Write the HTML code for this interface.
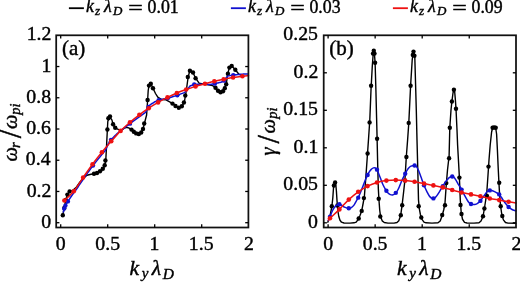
<!DOCTYPE html>
<html><head><meta charset="utf-8"><style>
html,body{margin:0;padding:0;background:#fff;}
svg{display:block;filter:blur(0.35px);}
text{fill:#000;stroke:#000;stroke-width:0.4px;}
</style></head><body>
<svg width="520" height="282" viewBox="0 0 520 282">
<rect width="520" height="282" fill="#fff"/>
<path d="M62.80,215.20 L64.00,209.50 L65.60,200.50 L67.40,194.60 L69.60,191.40 L72.50,190.60 L76.00,187.60 L80.00,182.00 L84.00,177.60 L87.00,175.20 L91.00,174.30 L95.00,173.80 L98.50,172.30 L101.90,169.90 L104.10,167.00 L105.30,163.00 L105.90,158.00 L106.60,145.00 L107.30,131.00 L107.80,121.50 L109.50,116.60 L111.90,119.90 L113.10,124.30 L114.80,127.30 L117.60,129.10 L121.00,130.30 L124.00,128.30 L126.50,127.40 L129.00,128.00 L131.50,129.60 L133.80,131.80 L137.50,134.00 L140.80,132.70 L142.90,129.40 L144.00,125.00 L146.60,115.00 L147.50,102.00 L148.20,90.50 L149.00,85.60 L150.80,83.70 L153.00,88.20 L155.50,93.50 L157.80,97.20 L161.70,99.50 L166.00,99.90 L171.00,102.60 L174.80,105.20 L179.00,108.00 L182.40,106.00 L184.60,100.50 L186.00,92.40 L187.20,84.00 L188.20,76.50 L189.90,70.80 L193.00,72.50 L195.60,78.20 L199.10,83.20 L204.10,84.30 L208.50,84.80 L212.50,85.60 L214.80,87.00 L217.20,89.70 L219.40,91.90 L222.00,92.00 L224.20,89.30 L225.60,85.50 L226.60,82.00 L227.50,75.00 L229.00,68.80 L231.70,65.90 L235.30,69.80 L238.50,73.80 L242.50,76.00" fill="none" stroke="#000000" stroke-width="1.4" stroke-linejoin="round" stroke-linecap="round"/>
<circle cx="62.80" cy="215.20" r="2.2" fill="#000000"/><circle cx="64.30" cy="208.00" r="2.2" fill="#000000"/><circle cx="65.80" cy="200.00" r="2.2" fill="#000000"/><circle cx="67.40" cy="194.60" r="2.2" fill="#000000"/><circle cx="69.60" cy="191.40" r="2.2" fill="#000000"/><circle cx="94.00" cy="173.80" r="2.2" fill="#000000"/><circle cx="97.00" cy="173.00" r="2.2" fill="#000000"/><circle cx="100.00" cy="171.30" r="2.2" fill="#000000"/><circle cx="102.80" cy="168.70" r="2.2" fill="#000000"/><circle cx="104.70" cy="165.20" r="2.2" fill="#000000"/><circle cx="105.40" cy="160.50" r="2.2" fill="#000000"/><circle cx="107.40" cy="129.50" r="2.2" fill="#000000"/><circle cx="108.40" cy="118.20" r="2.2" fill="#000000"/><circle cx="110.00" cy="116.40" r="2.2" fill="#000000"/><circle cx="113.10" cy="124.30" r="2.2" fill="#000000"/><circle cx="115.20" cy="127.80" r="2.2" fill="#000000"/><circle cx="131.50" cy="129.60" r="2.2" fill="#000000"/><circle cx="133.80" cy="131.80" r="2.2" fill="#000000"/><circle cx="136.20" cy="133.40" r="2.2" fill="#000000"/><circle cx="138.80" cy="134.00" r="2.2" fill="#000000"/><circle cx="141.20" cy="132.50" r="2.2" fill="#000000"/><circle cx="143.00" cy="129.00" r="2.2" fill="#000000"/><circle cx="144.20" cy="123.50" r="2.2" fill="#000000"/><circle cx="147.60" cy="100.00" r="2.2" fill="#000000"/><circle cx="149.00" cy="85.60" r="2.2" fill="#000000"/><circle cx="150.80" cy="83.70" r="2.2" fill="#000000"/><circle cx="153.00" cy="88.20" r="2.2" fill="#000000"/><circle cx="172.50" cy="103.60" r="2.2" fill="#000000"/><circle cx="175.50" cy="106.00" r="2.2" fill="#000000"/><circle cx="178.80" cy="107.80" r="2.2" fill="#000000"/><circle cx="181.80" cy="106.30" r="2.2" fill="#000000"/><circle cx="183.90" cy="102.50" r="2.2" fill="#000000"/><circle cx="185.30" cy="95.50" r="2.2" fill="#000000"/><circle cx="187.80" cy="77.00" r="2.2" fill="#000000"/><circle cx="189.90" cy="70.80" r="2.2" fill="#000000"/><circle cx="193.00" cy="72.50" r="2.2" fill="#000000"/><circle cx="195.60" cy="78.20" r="2.2" fill="#000000"/><circle cx="215.50" cy="87.80" r="2.2" fill="#000000"/><circle cx="218.00" cy="90.80" r="2.2" fill="#000000"/><circle cx="220.50" cy="92.30" r="2.2" fill="#000000"/><circle cx="223.00" cy="91.30" r="2.2" fill="#000000"/><circle cx="224.80" cy="88.20" r="2.2" fill="#000000"/><circle cx="226.20" cy="84.20" r="2.2" fill="#000000"/><circle cx="227.90" cy="73.80" r="2.2" fill="#000000"/><circle cx="229.40" cy="67.60" r="2.2" fill="#000000"/><circle cx="231.70" cy="65.90" r="2.2" fill="#000000"/><circle cx="235.30" cy="69.80" r="2.2" fill="#000000"/>
<path d="M63.30,212.04 L64.00,209.38 L64.70,207.37 L65.40,205.59 L66.10,204.48 L66.80,203.32 L67.50,202.11 L68.20,200.97 L68.90,199.94 L69.60,198.87 L70.30,197.76 L71.00,196.77 L71.70,195.81 L72.40,194.81 L73.10,193.79 L73.80,192.76 L74.50,191.84 L75.20,190.90 L75.90,189.94 L76.60,188.96 L77.30,187.96 L78.00,186.95 L78.70,185.94 L79.40,184.91 L80.10,183.88 L80.80,182.84 L81.50,181.79 L82.20,180.75 L82.90,179.72 L83.60,178.69 L84.30,177.66 L85.00,176.65 L85.70,175.64 L86.40,174.64 L87.10,173.65 L87.80,172.66 L88.50,171.69 L89.20,170.72 L89.90,169.76 L90.60,168.81 L91.30,167.86 L92.00,166.93 L92.70,166.00 L93.40,165.08 L94.10,164.17 L94.80,163.27 L95.50,162.37 L96.20,161.49 L96.90,160.61 L97.60,159.74 L98.30,158.87 L99.00,158.01 L99.70,157.16 L100.40,156.30 L101.10,155.45 L101.80,154.60 L102.50,153.75 L103.20,152.91 L103.90,152.08 L104.60,151.25 L105.30,150.42 L106.00,149.05 L106.70,147.46 L107.40,145.87 L108.10,144.40 L108.80,142.96 L109.50,141.52 L110.20,140.75 L110.90,139.98 L111.60,139.22 L112.30,138.45 L113.00,137.69 L113.70,137.00 L114.40,136.31 L115.10,135.63 L115.80,134.95 L116.50,134.28 L117.20,133.62 L117.90,132.97 L118.60,132.38 L119.30,131.82 L120.00,131.26 L120.70,130.72 L121.40,130.19 L122.10,129.67 L122.80,129.16 L123.50,128.62 L124.20,128.06 L124.90,127.51 L125.60,126.98 L126.30,126.45 L127.00,125.94 L127.70,125.43 L128.40,124.89 L129.10,124.34 L129.80,123.79 L130.50,123.25 L131.20,122.72 L131.90,122.19 L132.60,121.67 L133.30,121.15 L134.00,120.64 L134.70,120.14 L135.40,119.62 L136.10,119.10 L136.80,118.58 L137.50,118.07 L138.20,117.56 L138.90,117.05 L139.60,116.55 L140.30,116.06 L141.00,115.56 L141.70,115.07 L142.40,114.58 L143.10,114.08 L143.80,113.58 L144.50,113.09 L145.20,112.60 L145.90,111.67 L146.60,110.41 L147.30,109.16 L148.00,107.92 L148.70,106.69 L149.40,105.47 L150.10,104.89 L150.80,104.42 L151.50,103.96 L152.20,103.50 L152.90,103.05 L153.60,102.60 L154.30,102.16 L155.00,101.72 L155.70,101.43 L156.40,101.14 L157.10,100.86 L157.80,100.58 L158.50,100.30 L159.20,100.03 L159.90,99.77 L160.60,99.59 L161.30,99.43 L162.00,99.28 L162.70,99.13 L163.40,98.98 L164.10,98.84 L164.80,98.70 L165.50,98.56 L166.20,98.43 L166.90,98.30 L167.60,98.17 L168.30,98.04 L169.00,97.91 L169.70,97.79 L170.40,97.59 L171.10,97.33 L171.80,97.07 L172.50,96.82 L173.20,96.57 L173.90,96.33 L174.60,96.09 L175.30,95.86 L176.00,95.63 L176.70,95.41 L177.40,95.20 L178.10,94.98 L178.80,94.70 L179.50,94.43 L180.20,94.16 L180.90,93.90 L181.60,93.64 L182.30,93.38 L183.00,93.13 L183.70,92.88 L184.40,92.49 L185.10,92.00 L185.80,91.51 L186.50,90.70 L187.20,89.76 L187.90,88.81 L188.60,87.87 L189.30,86.93 L190.00,86.00 L190.70,85.73 L191.40,85.47 L192.10,85.21 L192.80,84.96 L193.50,84.71 L194.20,84.46 L194.90,84.21 L195.60,84.16 L196.30,84.15 L197.00,84.14 L197.70,84.13 L198.40,84.13 L199.10,84.13 L199.80,84.13 L200.50,84.15 L201.20,84.17 L201.90,84.19 L202.60,84.21 L203.30,84.23 L204.00,84.26 L204.70,84.28 L205.40,84.30 L206.10,84.32 L206.80,84.34 L207.50,84.36 L208.20,84.38 L208.90,84.40 L209.60,84.42 L210.30,84.38 L211.00,84.26 L211.70,84.14 L212.40,84.03 L213.10,83.92 L213.80,83.81 L214.50,83.71 L215.20,83.58 L215.90,83.41 L216.60,83.25 L217.30,83.08 L218.00,82.92 L218.70,82.76 L219.40,82.60 L220.10,82.45 L220.80,82.30 L221.50,81.98 L222.20,81.60 L222.90,81.23 L223.60,80.85 L224.30,80.23 L225.00,79.29 L225.70,78.35 L226.40,77.55 L227.10,76.86 L227.80,76.17 L228.50,75.88 L229.20,75.75 L229.90,75.63 L230.60,75.51 L231.30,75.39 L232.00,75.27 L232.70,75.18 L233.40,75.09 L234.10,75.01 L234.80,74.92 L235.50,74.84 L236.20,74.76 L236.90,74.68 L237.60,74.60 L238.30,74.53 L239.00,74.46 L239.70,74.39 L240.40,74.33 L241.10,74.26 L241.80,74.20 L242.50,74.14 L243.20,74.09 L243.90,74.03 L244.60,74.01 L245.30,74.00 L246.00,74.00 L246.70,73.99 L247.40,73.99 L248.10,73.99" fill="none" stroke="#1010d0" stroke-width="1.5" stroke-linejoin="round" stroke-linecap="round"/>
<circle cx="64.20" cy="208.61" r="2.2" fill="#1010d0"/><circle cx="65.40" cy="205.59" r="2.2" fill="#1010d0"/><circle cx="67.90" cy="201.40" r="2.2" fill="#1010d0"/><circle cx="93.00" cy="165.60" r="2.2" fill="#1010d0"/><circle cx="111.00" cy="139.87" r="2.2" fill="#1010d0"/><circle cx="130.00" cy="123.63" r="2.2" fill="#1010d0"/><circle cx="148.50" cy="107.04" r="2.2" fill="#1010d0"/><circle cx="158.60" cy="100.26" r="2.2" fill="#1010d0"/><circle cx="167.70" cy="98.15" r="2.2" fill="#1010d0"/><circle cx="177.30" cy="95.23" r="2.2" fill="#1010d0"/><circle cx="194.20" cy="84.46" r="2.2" fill="#1010d0"/><circle cx="214.80" cy="83.66" r="2.2" fill="#1010d0"/><circle cx="224.00" cy="80.64" r="2.2" fill="#1010d0"/><circle cx="233.30" cy="75.10" r="2.2" fill="#1010d0"/>
<path d="M64.40,200.50 C65.96,198.95 70.65,195.03 73.77,191.20 C76.89,187.37 80.02,182.00 83.14,177.50 C86.26,173.00 89.39,168.40 92.51,164.20 C95.63,160.00 98.76,156.12 101.88,152.30 C105.00,148.48 108.13,144.87 111.25,141.30 C114.37,137.73 117.50,134.08 120.62,130.90 C123.74,127.72 126.87,124.88 129.99,122.20 C133.11,119.52 136.24,117.13 139.36,114.80 C142.48,112.47 145.61,110.27 148.73,108.20 C151.85,106.13 154.98,104.20 158.10,102.40 C161.22,100.60 164.35,98.97 167.47,97.40 C170.59,95.83 173.72,94.32 176.84,93.00 C179.96,91.68 183.09,90.60 186.21,89.50 C189.33,88.40 192.46,87.35 195.58,86.40 C198.70,85.45 201.83,84.65 204.95,83.80 C208.07,82.95 211.20,82.07 214.32,81.30 C217.44,80.53 220.57,79.83 223.69,79.20 C226.81,78.57 229.94,78.00 233.06,77.50 C236.18,77.00 239.86,76.52 242.43,76.20 C245.00,75.88 247.49,75.70 248.50,75.60" fill="none" stroke="#ee1111" stroke-width="1.5" stroke-linejoin="round" stroke-linecap="round"/>
<circle cx="64.40" cy="200.50" r="2.3" fill="#ee1111"/><circle cx="73.77" cy="191.20" r="2.3" fill="#ee1111"/><circle cx="83.14" cy="177.50" r="2.3" fill="#ee1111"/><circle cx="92.51" cy="164.20" r="2.3" fill="#ee1111"/><circle cx="101.88" cy="152.30" r="2.3" fill="#ee1111"/><circle cx="111.25" cy="141.30" r="2.3" fill="#ee1111"/><circle cx="120.62" cy="130.90" r="2.3" fill="#ee1111"/><circle cx="129.99" cy="122.20" r="2.3" fill="#ee1111"/><circle cx="139.36" cy="114.80" r="2.3" fill="#ee1111"/><circle cx="148.73" cy="108.20" r="2.3" fill="#ee1111"/><circle cx="158.10" cy="102.40" r="2.3" fill="#ee1111"/><circle cx="167.47" cy="97.40" r="2.3" fill="#ee1111"/><circle cx="176.84" cy="93.00" r="2.3" fill="#ee1111"/><circle cx="186.21" cy="89.50" r="2.3" fill="#ee1111"/><circle cx="195.58" cy="86.40" r="2.3" fill="#ee1111"/><circle cx="204.95" cy="83.80" r="2.3" fill="#ee1111"/><circle cx="214.32" cy="81.30" r="2.3" fill="#ee1111"/><circle cx="223.69" cy="79.20" r="2.3" fill="#ee1111"/><circle cx="233.06" cy="77.50" r="2.3" fill="#ee1111"/><circle cx="242.43" cy="76.20" r="2.3" fill="#ee1111"/>
<path d="M327.80,222.20 L330.00,216.00 L331.80,207.00 L332.80,198.00 L333.50,188.00 L334.50,183.20 L335.10,182.00 L335.80,184.50 L336.40,191.00 L337.00,200.50 L337.80,210.50 L338.80,216.50 L340.00,220.25 L341.50,222.20 L344.00,223.00 L350.00,223.10 L354.00,222.80 L356.20,222.10 L358.20,219.35 L360.00,215.50 L361.70,210.90 L363.20,203.00 L364.40,196.00 L365.80,178.00 L367.20,158.00 L368.60,138.00 L369.80,120.00 L371.00,90.00 L372.30,66.00 L373.20,54.00 L373.80,50.60 L374.40,53.20 L375.10,62.50 L375.90,90.00 L376.60,118.00 L377.10,138.50 L377.70,165.00 L378.30,188.00 L378.90,199.00 L379.70,210.00 L380.60,216.80 L382.20,220.85 L384.30,222.50 L388.00,223.10 L394.00,223.10 L397.00,222.50 L398.80,220.75 L400.60,215.80 L402.10,205.20 L403.50,193.00 L404.90,180.40 L406.30,157.00 L407.60,140.00 L408.80,122.90 L410.60,85.70 L412.20,60.00 L413.00,53.50 L413.50,51.60 L414.20,53.80 L414.80,57.00 L415.60,85.00 L416.30,110.00 L417.00,140.00 L417.80,170.00 L418.50,200.00 L419.30,208.60 L420.40,214.50 L421.80,219.15 L424.00,222.10 L426.00,222.80 L432.00,223.10 L438.00,222.80 L440.20,220.95 L442.20,215.50 L443.80,209.50 L445.00,203.00 L446.30,184.00 L447.50,170.00 L449.10,156.00 L449.80,127.70 L451.00,110.00 L451.90,101.50 L453.00,93.00 L453.90,89.80 L454.70,92.00 L455.40,100.00 L456.00,108.70 L457.00,130.00 L457.60,145.00 L458.60,163.00 L459.40,177.60 L460.30,200.00 L461.20,212.50 L462.50,219.25 L464.50,222.30 L467.00,223.00 L474.00,223.10 L479.00,222.80 L481.00,221.05 L483.00,216.50 L484.40,208.50 L485.80,199.50 L486.90,191.00 L488.00,175.00 L489.00,160.00 L490.20,145.00 L491.60,132.00 L492.60,128.00 L494.10,127.40 L495.70,128.00 L496.60,134.00 L497.40,150.00 L498.20,168.00 L498.90,182.00 L499.60,194.50 L500.60,206.00 L501.80,214.50 L503.40,219.85 L505.50,222.50 L508.00,223.10 L516.00,223.30" fill="none" stroke="#000000" stroke-width="1.4" stroke-linejoin="round" stroke-linecap="round"/>
<circle cx="331.80" cy="206.30" r="2.2" fill="#000000"/><circle cx="333.90" cy="185.50" r="2.2" fill="#000000"/><circle cx="335.10" cy="182.40" r="2.2" fill="#000000"/><circle cx="337.40" cy="205.50" r="2.2" fill="#000000"/><circle cx="358.70" cy="218.50" r="2.2" fill="#000000"/><circle cx="361.70" cy="210.90" r="2.2" fill="#000000"/><circle cx="363.90" cy="198.10" r="2.2" fill="#000000"/><circle cx="367.60" cy="153.50" r="2.2" fill="#000000"/><circle cx="369.60" cy="122.40" r="2.2" fill="#000000"/><circle cx="371.10" cy="85.80" r="2.2" fill="#000000"/><circle cx="373.00" cy="53.60" r="2.2" fill="#000000"/><circle cx="373.80" cy="50.80" r="2.2" fill="#000000"/><circle cx="374.50" cy="53.60" r="2.2" fill="#000000"/><circle cx="375.10" cy="62.80" r="2.2" fill="#000000"/><circle cx="377.10" cy="138.80" r="2.2" fill="#000000"/><circle cx="378.70" cy="198.80" r="2.2" fill="#000000"/><circle cx="380.30" cy="216.50" r="2.2" fill="#000000"/><circle cx="400.80" cy="215.20" r="2.2" fill="#000000"/><circle cx="402.20" cy="205.20" r="2.2" fill="#000000"/><circle cx="404.90" cy="180.40" r="2.2" fill="#000000"/><circle cx="406.40" cy="157.00" r="2.2" fill="#000000"/><circle cx="408.70" cy="122.90" r="2.2" fill="#000000"/><circle cx="410.60" cy="85.70" r="2.2" fill="#000000"/><circle cx="412.80" cy="54.90" r="2.2" fill="#000000"/><circle cx="413.50" cy="51.60" r="2.2" fill="#000000"/><circle cx="414.40" cy="55.80" r="2.2" fill="#000000"/><circle cx="418.70" cy="206.20" r="2.2" fill="#000000"/><circle cx="421.30" cy="217.50" r="2.2" fill="#000000"/><circle cx="442.20" cy="215.00" r="2.2" fill="#000000"/><circle cx="445.00" cy="205.20" r="2.2" fill="#000000"/><circle cx="446.30" cy="183.10" r="2.2" fill="#000000"/><circle cx="449.10" cy="158.30" r="2.2" fill="#000000"/><circle cx="449.80" cy="127.70" r="2.2" fill="#000000"/><circle cx="451.90" cy="101.50" r="2.2" fill="#000000"/><circle cx="453.90" cy="89.80" r="2.2" fill="#000000"/><circle cx="456.00" cy="108.70" r="2.2" fill="#000000"/><circle cx="459.40" cy="177.60" r="2.2" fill="#000000"/><circle cx="460.50" cy="205.00" r="2.2" fill="#000000"/><circle cx="461.50" cy="214.00" r="2.2" fill="#000000"/><circle cx="483.00" cy="216.30" r="2.2" fill="#000000"/><circle cx="484.40" cy="208.50" r="2.2" fill="#000000"/><circle cx="487.00" cy="196.00" r="2.2" fill="#000000"/><circle cx="488.50" cy="166.60" r="2.2" fill="#000000"/><circle cx="492.60" cy="127.70" r="2.2" fill="#000000"/><circle cx="494.10" cy="127.40" r="2.2" fill="#000000"/><circle cx="495.70" cy="127.70" r="2.2" fill="#000000"/><circle cx="499.20" cy="182.70" r="2.2" fill="#000000"/><circle cx="500.70" cy="206.30" r="2.2" fill="#000000"/><circle cx="502.30" cy="216.00" r="2.2" fill="#000000"/>
<path d="M328.30,220.50 C328.58,219.88 329.28,218.48 330.00,216.80 C330.72,215.12 331.65,212.22 332.60,210.40 C333.55,208.58 334.60,206.93 335.70,205.90 C336.80,204.87 338.15,204.28 339.20,204.20 C340.25,204.12 341.13,204.92 342.00,205.40 C342.87,205.88 343.30,206.62 344.40,207.10 C345.50,207.58 347.50,208.17 348.60,208.30 C349.70,208.43 350.13,208.38 351.00,207.90 C351.87,207.42 352.97,206.45 353.80,205.40 C354.63,204.35 355.23,202.95 356.00,201.60 C356.77,200.25 357.57,199.03 358.40,197.30 C359.23,195.57 360.20,193.15 361.00,191.20 C361.80,189.25 362.43,187.60 363.20,185.60 C363.97,183.60 364.67,181.37 365.60,179.20 C366.53,177.03 367.90,174.20 368.80,172.60 C369.70,171.00 370.22,170.38 371.00,169.60 C371.78,168.82 372.75,168.17 373.50,167.90 C374.25,167.63 374.93,167.75 375.50,168.00 C376.07,168.25 376.40,168.52 376.90,169.40 C377.40,170.28 377.87,171.73 378.50,173.30 C379.13,174.87 379.95,176.88 380.70,178.80 C381.45,180.72 382.15,182.93 383.00,184.80 C383.85,186.67 384.97,188.63 385.80,190.00 C386.63,191.37 387.25,192.23 388.00,193.00 C388.75,193.77 389.55,194.27 390.30,194.60 C391.05,194.93 391.63,195.22 392.50,195.00 C393.37,194.78 394.62,194.13 395.50,193.30 C396.38,192.47 397.07,191.32 397.80,190.00 C398.53,188.68 399.20,187.03 399.90,185.40 C400.60,183.77 401.15,182.07 402.00,180.20 C402.85,178.33 404.17,175.83 405.00,174.20 C405.83,172.57 406.38,171.43 407.00,170.40 C407.62,169.37 408.03,168.72 408.70,168.00 C409.37,167.28 410.07,166.53 411.00,166.10 C411.93,165.67 413.38,165.32 414.30,165.40 C415.22,165.48 415.77,165.70 416.50,166.60 C417.23,167.50 417.95,169.07 418.70,170.80 C419.45,172.53 420.12,174.58 421.00,177.00 C421.88,179.42 423.00,182.83 424.00,185.30 C425.00,187.77 426.08,189.97 427.00,191.80 C427.92,193.63 428.67,195.20 429.50,196.30 C430.33,197.40 431.25,198.05 432.00,198.40 C432.75,198.75 433.33,198.67 434.00,198.40 C434.67,198.13 435.10,197.90 436.00,196.80 C436.90,195.70 438.40,193.37 439.40,191.80 C440.40,190.23 441.15,188.80 442.00,187.40 C442.85,186.00 443.67,184.63 444.50,183.40 C445.33,182.17 446.17,181.00 447.00,180.00 C447.83,179.00 448.68,178.00 449.50,177.40 C450.32,176.80 451.15,176.40 451.90,176.40 C452.65,176.40 453.32,176.77 454.00,177.40 C454.68,178.03 455.33,179.13 456.00,180.20 C456.67,181.27 457.17,182.43 458.00,183.80 C458.83,185.17 460.08,186.80 461.00,188.40 C461.92,190.00 462.60,191.70 463.50,193.40 C464.40,195.10 465.57,197.17 466.40,198.60 C467.23,200.03 467.82,201.12 468.50,202.00 C469.18,202.88 469.75,203.47 470.50,203.90 C471.25,204.33 472.03,204.57 473.00,204.60 C473.97,204.63 475.38,204.42 476.30,204.10 C477.22,203.78 477.80,203.25 478.50,202.70 C479.20,202.15 479.80,201.65 480.50,200.80 C481.20,199.95 481.97,198.63 482.70,197.60 C483.43,196.57 484.08,195.70 484.90,194.60 C485.72,193.50 486.67,191.73 487.60,191.00 C488.53,190.27 489.58,190.20 490.50,190.20 C491.42,190.20 492.18,190.63 493.10,191.00 C494.02,191.37 494.98,191.83 496.00,192.40 C497.02,192.97 498.28,193.55 499.20,194.40 C500.12,195.25 500.73,196.40 501.50,197.50 C502.27,198.60 503.05,199.92 503.80,201.00 C504.55,202.08 505.20,203.00 506.00,204.00 C506.80,205.00 507.77,206.18 508.60,207.00 C509.43,207.82 510.27,208.40 511.00,208.90 C511.73,209.40 512.17,209.67 513.00,210.00 C513.83,210.33 515.50,210.75 516.00,210.90" fill="none" stroke="#1010d0" stroke-width="1.5" stroke-linejoin="round" stroke-linecap="round"/>
<circle cx="330.00" cy="216.80" r="2.2" fill="#1010d0"/><circle cx="339.40" cy="204.29" r="2.2" fill="#1010d0"/><circle cx="348.80" cy="208.27" r="2.2" fill="#1010d0"/><circle cx="358.20" cy="197.66" r="2.2" fill="#1010d0"/><circle cx="367.60" cy="175.07" r="2.2" fill="#1010d0"/><circle cx="377.00" cy="169.64" r="2.2" fill="#1010d0"/><circle cx="386.40" cy="190.82" r="2.2" fill="#1010d0"/><circle cx="395.80" cy="192.87" r="2.2" fill="#1010d0"/><circle cx="405.20" cy="173.82" r="2.2" fill="#1010d0"/><circle cx="414.60" cy="165.56" r="2.2" fill="#1010d0"/><circle cx="424.00" cy="185.30" r="2.2" fill="#1010d0"/><circle cx="433.40" cy="198.40" r="2.2" fill="#1010d0"/><circle cx="442.80" cy="186.12" r="2.2" fill="#1010d0"/><circle cx="452.20" cy="176.54" r="2.2" fill="#1010d0"/><circle cx="461.60" cy="189.60" r="2.2" fill="#1010d0"/><circle cx="471.00" cy="204.04" r="2.2" fill="#1010d0"/><circle cx="480.40" cy="200.90" r="2.2" fill="#1010d0"/><circle cx="489.80" cy="190.39" r="2.2" fill="#1010d0"/><circle cx="499.20" cy="194.40" r="2.2" fill="#1010d0"/><circle cx="508.60" cy="207.00" r="2.2" fill="#1010d0"/>
<path d="M328.50,220.00 C328.75,219.72 328.18,220.07 330.00,218.30 C331.82,216.53 336.27,212.52 339.40,209.40 C342.53,206.28 345.67,202.53 348.80,199.60 C351.93,196.67 355.07,194.05 358.20,191.80 C361.33,189.55 364.47,187.65 367.60,186.10 C370.73,184.55 373.87,183.42 377.00,182.50 C380.13,181.58 383.27,181.00 386.40,180.60 C389.53,180.20 392.67,180.10 395.80,180.10 C398.93,180.10 402.07,180.32 405.20,180.60 C408.33,180.88 411.47,181.30 414.60,181.80 C417.73,182.30 420.87,183.00 424.00,183.60 C427.13,184.20 430.27,184.77 433.40,185.40 C436.53,186.03 439.67,186.63 442.80,187.40 C445.93,188.17 449.07,189.15 452.20,190.00 C455.33,190.85 458.47,191.77 461.60,192.50 C464.73,193.23 467.87,193.77 471.00,194.40 C474.13,195.03 477.27,195.62 480.40,196.30 C483.53,196.98 486.67,197.87 489.80,198.50 C492.93,199.13 496.07,199.57 499.20,200.10 C502.33,200.63 505.80,201.22 508.60,201.70 C511.40,202.18 514.77,202.78 516.00,203.00" fill="none" stroke="#ee1111" stroke-width="1.5" stroke-linejoin="round" stroke-linecap="round"/>
<circle cx="330.00" cy="218.30" r="2.3" fill="#ee1111"/><circle cx="339.40" cy="209.40" r="2.3" fill="#ee1111"/><circle cx="348.80" cy="199.60" r="2.3" fill="#ee1111"/><circle cx="358.20" cy="191.80" r="2.3" fill="#ee1111"/><circle cx="367.60" cy="186.10" r="2.3" fill="#ee1111"/><circle cx="377.00" cy="182.50" r="2.3" fill="#ee1111"/><circle cx="386.40" cy="180.60" r="2.3" fill="#ee1111"/><circle cx="395.80" cy="180.10" r="2.3" fill="#ee1111"/><circle cx="405.20" cy="180.60" r="2.3" fill="#ee1111"/><circle cx="414.60" cy="181.80" r="2.3" fill="#ee1111"/><circle cx="424.00" cy="183.60" r="2.3" fill="#ee1111"/><circle cx="433.40" cy="185.40" r="2.3" fill="#ee1111"/><circle cx="442.80" cy="187.40" r="2.3" fill="#ee1111"/><circle cx="452.20" cy="190.00" r="2.3" fill="#ee1111"/><circle cx="461.60" cy="192.50" r="2.3" fill="#ee1111"/><circle cx="471.00" cy="194.40" r="2.3" fill="#ee1111"/><circle cx="480.40" cy="196.30" r="2.3" fill="#ee1111"/><circle cx="489.80" cy="198.50" r="2.3" fill="#ee1111"/><circle cx="499.20" cy="200.10" r="2.3" fill="#ee1111"/><circle cx="508.60" cy="201.70" r="2.3" fill="#ee1111"/>
<rect x="56.2" y="35.3" width="192.2" height="192.2" fill="none" stroke="#111" stroke-width="1.75"/><line x1="60.7" y1="227.5" x2="60.7" y2="224.3" stroke="#000" stroke-width="1.3"/><line x1="60.7" y1="35.3" x2="60.7" y2="38.5" stroke="#000" stroke-width="1.3"/><line x1="107.7" y1="227.5" x2="107.7" y2="224.3" stroke="#000" stroke-width="1.3"/><line x1="107.7" y1="35.3" x2="107.7" y2="38.5" stroke="#000" stroke-width="1.3"/><line x1="154.7" y1="227.5" x2="154.7" y2="224.3" stroke="#000" stroke-width="1.3"/><line x1="154.7" y1="35.3" x2="154.7" y2="38.5" stroke="#000" stroke-width="1.3"/><line x1="201.7" y1="227.5" x2="201.7" y2="224.3" stroke="#000" stroke-width="1.3"/><line x1="201.7" y1="35.3" x2="201.7" y2="38.5" stroke="#000" stroke-width="1.3"/><line x1="56.2" y1="222.7" x2="59.400000000000006" y2="222.7" stroke="#000" stroke-width="1.3"/><line x1="248.4" y1="222.7" x2="245.20000000000002" y2="222.7" stroke="#000" stroke-width="1.3"/><line x1="56.2" y1="191.46699999999998" x2="59.400000000000006" y2="191.46699999999998" stroke="#000" stroke-width="1.3"/><line x1="248.4" y1="191.46699999999998" x2="245.20000000000002" y2="191.46699999999998" stroke="#000" stroke-width="1.3"/><line x1="56.2" y1="160.23399999999998" x2="59.400000000000006" y2="160.23399999999998" stroke="#000" stroke-width="1.3"/><line x1="248.4" y1="160.23399999999998" x2="245.20000000000002" y2="160.23399999999998" stroke="#000" stroke-width="1.3"/><line x1="56.2" y1="129.00099999999998" x2="59.400000000000006" y2="129.00099999999998" stroke="#000" stroke-width="1.3"/><line x1="248.4" y1="129.00099999999998" x2="245.20000000000002" y2="129.00099999999998" stroke="#000" stroke-width="1.3"/><line x1="56.2" y1="97.76799999999999" x2="59.400000000000006" y2="97.76799999999999" stroke="#000" stroke-width="1.3"/><line x1="248.4" y1="97.76799999999999" x2="245.20000000000002" y2="97.76799999999999" stroke="#000" stroke-width="1.3"/><line x1="56.2" y1="66.535" x2="59.400000000000006" y2="66.535" stroke="#000" stroke-width="1.3"/><line x1="248.4" y1="66.535" x2="245.20000000000002" y2="66.535" stroke="#000" stroke-width="1.3"/>
<rect x="323.7" y="35.3" width="192.3" height="192.2" fill="none" stroke="#111" stroke-width="1.75"/><line x1="328.1" y1="227.5" x2="328.1" y2="224.3" stroke="#000" stroke-width="1.3"/><line x1="328.1" y1="35.3" x2="328.1" y2="38.5" stroke="#000" stroke-width="1.3"/><line x1="375.15000000000003" y1="227.5" x2="375.15000000000003" y2="224.3" stroke="#000" stroke-width="1.3"/><line x1="375.15000000000003" y1="35.3" x2="375.15000000000003" y2="38.5" stroke="#000" stroke-width="1.3"/><line x1="422.20000000000005" y1="227.5" x2="422.20000000000005" y2="224.3" stroke="#000" stroke-width="1.3"/><line x1="422.20000000000005" y1="35.3" x2="422.20000000000005" y2="38.5" stroke="#000" stroke-width="1.3"/><line x1="469.25" y1="227.5" x2="469.25" y2="224.3" stroke="#000" stroke-width="1.3"/><line x1="469.25" y1="35.3" x2="469.25" y2="38.5" stroke="#000" stroke-width="1.3"/><line x1="323.7" y1="222.8" x2="326.9" y2="222.8" stroke="#000" stroke-width="1.3"/><line x1="516.0" y1="222.8" x2="512.8" y2="222.8" stroke="#000" stroke-width="1.3"/><line x1="323.7" y1="185.3" x2="326.9" y2="185.3" stroke="#000" stroke-width="1.3"/><line x1="516.0" y1="185.3" x2="512.8" y2="185.3" stroke="#000" stroke-width="1.3"/><line x1="323.7" y1="147.8" x2="326.9" y2="147.8" stroke="#000" stroke-width="1.3"/><line x1="516.0" y1="147.8" x2="512.8" y2="147.8" stroke="#000" stroke-width="1.3"/><line x1="323.7" y1="110.30000000000001" x2="326.9" y2="110.30000000000001" stroke="#000" stroke-width="1.3"/><line x1="516.0" y1="110.30000000000001" x2="512.8" y2="110.30000000000001" stroke="#000" stroke-width="1.3"/><line x1="323.7" y1="72.80000000000001" x2="326.9" y2="72.80000000000001" stroke="#000" stroke-width="1.3"/><line x1="516.0" y1="72.80000000000001" x2="512.8" y2="72.80000000000001" stroke="#000" stroke-width="1.3"/>
<text x="55.76" y="249.90" style="font-family:'Liberation Serif',serif;font-size:19.8px">0</text>
<text x="95.33" y="249.90" style="font-family:'Liberation Serif',serif;font-size:19.8px">0.5</text>
<text x="149.45" y="249.90" style="font-family:'Liberation Serif',serif;font-size:19.8px">1</text>
<text x="188.82" y="249.90" style="font-family:'Liberation Serif',serif;font-size:19.8px">1.5</text>
<text x="243.89" y="249.90" style="font-family:'Liberation Serif',serif;font-size:19.8px">2</text>
<text x="323.16" y="249.90" style="font-family:'Liberation Serif',serif;font-size:19.8px">0</text>
<text x="362.78" y="249.90" style="font-family:'Liberation Serif',serif;font-size:19.8px">0.5</text>
<text x="416.95" y="249.90" style="font-family:'Liberation Serif',serif;font-size:19.8px">1</text>
<text x="456.38" y="249.90" style="font-family:'Liberation Serif',serif;font-size:19.8px">1.5</text>
<text x="511.49" y="249.90" style="font-family:'Liberation Serif',serif;font-size:19.8px">2</text>
<text x="41.17" y="227.75" style="font-family:'Liberation Serif',serif;font-size:19.8px">0</text>
<text x="26.67" y="196.52" style="font-family:'Liberation Serif',serif;font-size:19.8px">0.2</text>
<text x="25.80" y="165.28" style="font-family:'Liberation Serif',serif;font-size:19.8px">0.4</text>
<text x="26.17" y="134.05" style="font-family:'Liberation Serif',serif;font-size:19.8px">0.6</text>
<text x="26.30" y="102.82" style="font-family:'Liberation Serif',serif;font-size:19.8px">0.8</text>
<text x="41.55" y="71.58" style="font-family:'Liberation Serif',serif;font-size:19.8px">1</text>
<text x="26.67" y="40.35" style="font-family:'Liberation Serif',serif;font-size:19.8px">1.2</text>
<text x="308.07" y="227.85" style="font-family:'Liberation Serif',serif;font-size:19.8px">0</text>
<text x="283.32" y="190.35" style="font-family:'Liberation Serif',serif;font-size:19.8px">0.05</text>
<text x="293.57" y="152.85" style="font-family:'Liberation Serif',serif;font-size:19.8px">0.1</text>
<text x="283.32" y="115.35" style="font-family:'Liberation Serif',serif;font-size:19.8px">0.15</text>
<text x="293.57" y="77.85" style="font-family:'Liberation Serif',serif;font-size:19.8px">0.2</text>
<text x="283.32" y="40.35" style="font-family:'Liberation Serif',serif;font-size:19.8px">0.25</text>
<text x="62.06" y="55.20" style="font-family:'Liberation Serif',serif;font-size:21px">(a)</text>
<text x="329.15" y="55.20" style="font-family:'Liberation Serif',serif;font-size:21px">(b)</text>
<text x="129.50" y="275.30" style="font-family:'Liberation Serif',serif;font-size:21.5px;font-style:italic">k</text><text x="141.66" y="278.10" style="font-family:'Liberation Serif',serif;font-size:15px;font-style:italic">y</text><text x="151.72" y="275.30" style="font-family:'Liberation Serif',serif;font-size:21.5px;font-style:italic">λ</text><text x="162.81" y="278.60" style="font-family:'Liberation Serif',serif;font-size:15.5px;font-style:italic">D</text>
<text x="397.00" y="275.30" style="font-family:'Liberation Serif',serif;font-size:21.5px;font-style:italic">k</text><text x="409.16" y="278.10" style="font-family:'Liberation Serif',serif;font-size:15px;font-style:italic">y</text><text x="419.23" y="275.30" style="font-family:'Liberation Serif',serif;font-size:21.5px;font-style:italic">λ</text><text x="430.31" y="278.60" style="font-family:'Liberation Serif',serif;font-size:15.5px;font-style:italic">D</text>
<g transform="translate(17.0,160.4) rotate(-90)"><text x="-1.03" y="0.00" style="font-family:'Liberation Serif',serif;font-size:20.5px;font-style:italic">ω</text><text x="12.38" y="2.70" style="font-family:'Liberation Serif',serif;font-size:14.5px;font-style:italic">r</text><text x="22.10" y="4.10" style="font-family:'Liberation Serif',serif;font-size:30.5px">/</text><text x="31.42" y="0.00" style="font-family:'Liberation Serif',serif;font-size:20.5px;font-style:italic">ω</text><text x="45.60" y="2.70" style="font-family:'Liberation Serif',serif;font-size:14.5px;font-style:italic">pi</text></g>
<g transform="translate(274.5,156.5) rotate(-90)"><text x="1.11" y="0.00" style="font-family:'Liberation Serif',serif;font-size:20.5px;font-style:italic">γ</text><text x="13.10" y="4.10" style="font-family:'Liberation Serif',serif;font-size:30.5px">/</text><text x="22.93" y="0.00" style="font-family:'Liberation Serif',serif;font-size:20.5px;font-style:italic">ω</text><text x="37.80" y="2.70" style="font-family:'Liberation Serif',serif;font-size:14.5px;font-style:italic">pi</text></g>
<line x1="68.90" y1="8.2" x2="83.90" y2="8.2" stroke="#000000" stroke-width="1.8"/><text x="85.99" y="12.30" style="font-family:'Liberation Serif',serif;font-size:17.8px;font-style:italic">k</text><text x="94.88" y="15.00" style="font-family:'Liberation Serif',serif;font-size:13px;font-style:italic">z</text><text x="103.91" y="12.40" style="font-family:'Liberation Serif',serif;font-size:17.8px;font-style:italic">λ</text><text x="112.99" y="15.30" style="font-family:'Liberation Serif',serif;font-size:13px;font-style:italic">D</text><text transform="translate(135.50,8.05) scale(1.45,1.08)" x="-5.00" y="5.94" style="font-family:'Liberation Serif',serif;font-size:17.8px">=</text><text x="147.62" y="12.55" style="font-family:'Liberation Serif',serif;font-size:17.8px">0.01</text>
<line x1="230.90" y1="8.2" x2="245.90" y2="8.2" stroke="#1010d0" stroke-width="1.8"/><text x="247.99" y="12.30" style="font-family:'Liberation Serif',serif;font-size:17.8px;font-style:italic">k</text><text x="256.88" y="15.00" style="font-family:'Liberation Serif',serif;font-size:13px;font-style:italic">z</text><text x="265.91" y="12.40" style="font-family:'Liberation Serif',serif;font-size:17.8px;font-style:italic">λ</text><text x="274.99" y="15.30" style="font-family:'Liberation Serif',serif;font-size:13px;font-style:italic">D</text><text transform="translate(297.50,8.05) scale(1.45,1.08)" x="-5.00" y="5.94" style="font-family:'Liberation Serif',serif;font-size:17.8px">=</text><text x="309.44" y="12.55" style="font-family:'Liberation Serif',serif;font-size:17.8px">0.03</text>
<line x1="392.90" y1="8.2" x2="407.90" y2="8.2" stroke="#ee1111" stroke-width="1.8"/><text x="409.99" y="12.30" style="font-family:'Liberation Serif',serif;font-size:17.8px;font-style:italic">k</text><text x="418.88" y="15.00" style="font-family:'Liberation Serif',serif;font-size:13px;font-style:italic">z</text><text x="427.91" y="12.40" style="font-family:'Liberation Serif',serif;font-size:17.8px;font-style:italic">λ</text><text x="436.99" y="15.30" style="font-family:'Liberation Serif',serif;font-size:13px;font-style:italic">D</text><text transform="translate(459.50,8.05) scale(1.45,1.08)" x="-5.00" y="5.94" style="font-family:'Liberation Serif',serif;font-size:17.8px">=</text><text x="471.50" y="12.55" style="font-family:'Liberation Serif',serif;font-size:17.8px">0.09</text>
</svg>
</body></html>
